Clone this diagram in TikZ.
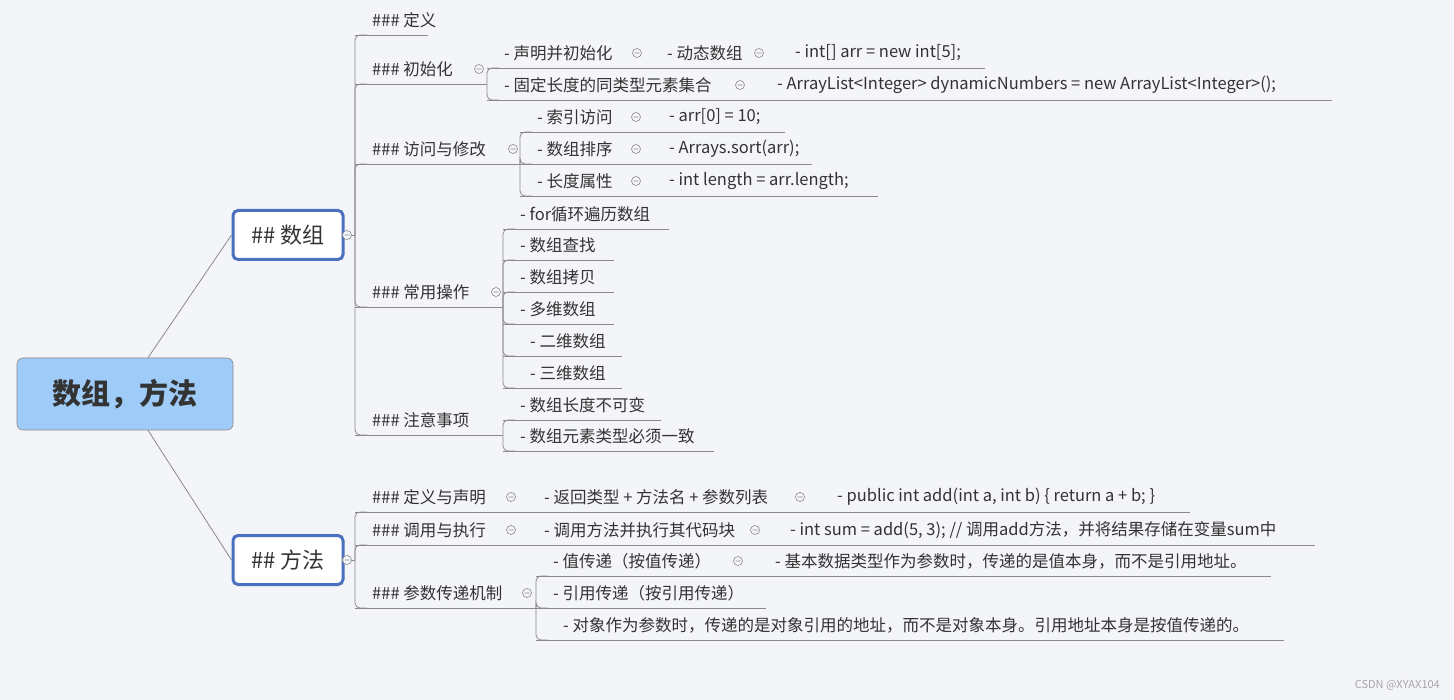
\documentclass[tikz,border=0pt]{standalone}
\usepackage{fontspec}
\setmainfont{Noto Sans CJK SC}
\definecolor{bgcol}{HTML}{F4F5F9}
\definecolor{rootcol}{HTML}{9ECBF7}
\definecolor{boxcol}{HTML}{4A70C0}
\definecolor{txtcol}{HTML}{333333}
\definecolor{linecol}{HTML}{8A8A8A}

% underline topic: name, x0, x1, y of the underline, text
\newcommand\topicline[5]{%
  \draw[branch] (#2,#4) -- (#3,#4);
  \node[topic] (#1) at (#2+17,#4-15) {#5};}
% collapse marker
\newcommand\fold[2]{\draw[linecol,fill=bgcol,line width=0.6pt] (#1,#2) circle (4.5)
  (#1-2.5,#2) -- (#1+2.5,#2);}
% fork from parent end to child underline
\newcommand\fork[3]{\draw[branch,rounded corners=5] (#1,#2) -- (#1,#3) -- (#1+12,#3);}

\begin{document}
\begin{tikzpicture}[x=1pt,y=-1pt,
    branch/.style={linecol,line width=0.8pt},
    topic/.style={anchor=west,inner sep=0,text=txtcol,font=\fontsize{16.5}{19}\selectfont},
    sub/.style={draw=boxcol,line width=3pt,rounded corners=5,fill=white,text=txtcol,
      minimum width=110,minimum height=49,font=\fontsize{22}{25}\selectfont}]
  % Background
  \fill[bgcol] (0,0) rectangle (1454,700);
  \useasboundingbox (0,0) rectangle (1454,700);

  % Root and main branches
  \node[fill=rootcol,draw=linecol,line width=0.6pt,rounded corners=6,minimum width=216,
    minimum height=72,text=txtcol,font=\fontsize{29}{32}\selectfont\bfseries]
    (root) at (125,394) {数组，方法};
  \node[sub] (arr) at (288,235) {\#\# 数组};
  \node[sub] (meth) at (288,560) {\#\# 方法};
  \draw[branch] (root.north) ++(23,0) -- (arr.west);
  \draw[branch] (root.south) ++(23,0) -- (meth.west);
  \draw[branch] (arr.east) -- (355,235);
  \draw[branch] (meth.east) -- (355,560);
  \fold{347}{235} \fold{347}{560}

  % Array branch
  \foreach \y in {35,84,164,307,435} {\fork{355}{235}{\y}}
  \topicline{def}{355}{428}{35}{\#\#\# 定义}
  \topicline{init}{355}{487}{84}{\#\#\# 初始化} \fold{479}{69}
  \topicline{acc}{355}{520}{164}{\#\#\# 访问与修改} \fold{513}{149}
  \topicline{ops}{355}{503}{307}{\#\#\# 常用操作} \fold{496}{292}
  \topicline{note}{355}{503}{435}{\#\#\# 注意事项}

  % Initialisation
  \foreach \y in {68,100} {\fork{487}{84}{\y}}
  \topicline{decl}{487}{650}{68}{- 声明并初始化} \fold{637}{53}
  \topicline{dyn}{650}{778}{68}{- 动态数组} \fold{759}{53}
  \topicline{dynex}{778}{985}{68}{- int[] arr = new int[5];}
  \topicline{fixed}{487}{760}{100}{- 固定长度的同类型元素集合} \fold{740}{85}
  \topicline{fixex}{760}{1332}{100}{- ArrayList<Integer> dynamicNumbers = new ArrayList<Integer>();}

  % Access and modification
  \foreach \y in {132,164,196} {\fork{520}{164}{\y}}
  \topicline{idx}{520}{652}{132}{- 索引访问} \fold{636}{117}
  \topicline{idxex}{652}{785}{132}{- arr[0] = 10;}
  \topicline{sort}{520}{652}{164}{- 数组排序} \fold{636}{149}
  \topicline{sortex}{652}{812}{164}{- Arrays.sort(arr);}
  \topicline{len}{520}{652}{196}{- 长度属性} \fold{636}{181}
  \topicline{lenex}{652}{878}{196}{- int length = arr.length;}

  % Common operations
  \foreach \y in {229,260,292,324,356,388} {\fork{503}{307}{\y}}
  \topicline{loop}{503}{669}{229}{- for循环遍历数组}
  \topicline{find}{503}{614}{260}{- 数组查找}
  \topicline{copy}{503}{614}{292}{- 数组拷贝}
  \topicline{multi}{503}{614}{324}{- 多维数组}
  \topicline{two}{503}{622}{356}{\hspace{10pt}- 二维数组}
  \topicline{three}{503}{622}{388}{\hspace{10pt}- 三维数组}

  % Notes
  \foreach \y in {420,451} {\fork{503}{435}{\y}}
  \topicline{fix}{503}{661}{420}{- 数组长度不可变}
  \topicline{same}{503}{714}{451}{- 数组元素类型必须一致}

  % Method branch
  \foreach \y in {512,545,608} {\fork{355}{560}{\y}}
  \topicline{mdef}{355}{527}{512}{\#\#\# 定义与声明} \fold{511}{497}
  \topicline{sig}{527}{820}{512}{- 返回类型 + 方法名 + 参数列表} \fold{800}{497}
  \topicline{sigex}{820}{1190}{512}{- public int add(int a, int b) \{ return a + b; \}}
  \topicline{call}{355}{527}{545}{\#\#\# 调用与执行} \fold{511}{530}
  \topicline{run}{527}{773}{545}{- 调用方法并执行其代码块} \fold{755}{530}
  \topicline{runex}{773}{1315}{545}{- int sum = add(5, 3); // 调用add方法，并将结果存储在变量sum中}
  \topicline{pass}{355}{536}{608}{\#\#\# 参数传递机制} \fold{527}{593}

  % Parameter passing
  \foreach \y in {576,608,640} {\fork{536}{608}{\y}}
  \topicline{byval}{536}{758}{576}{- 值传递（按值传递）} \fold{738}{561}
  \topicline{byvalex}{758}{1271}{576}{- 基本数据类型作为参数时，传递的是值本身，而不是引用地址。}
  \topicline{byref}{536}{766}{608}{- 引用传递（按引用传递）}
  \topicline{byrefex}{536}{1284}{640}{\hspace{10pt}- 对象作为参数时，传递的是对象引用的地址，而不是对象本身。引用地址本身是按值传递的。}

  % Watermark
  \node[anchor=east,inner sep=0,text=gray!70,font=\fontsize{11}{13}\selectfont] (mark) at (1440,685) {CSDN @XYAX104};
\end{tikzpicture}
\end{document}
